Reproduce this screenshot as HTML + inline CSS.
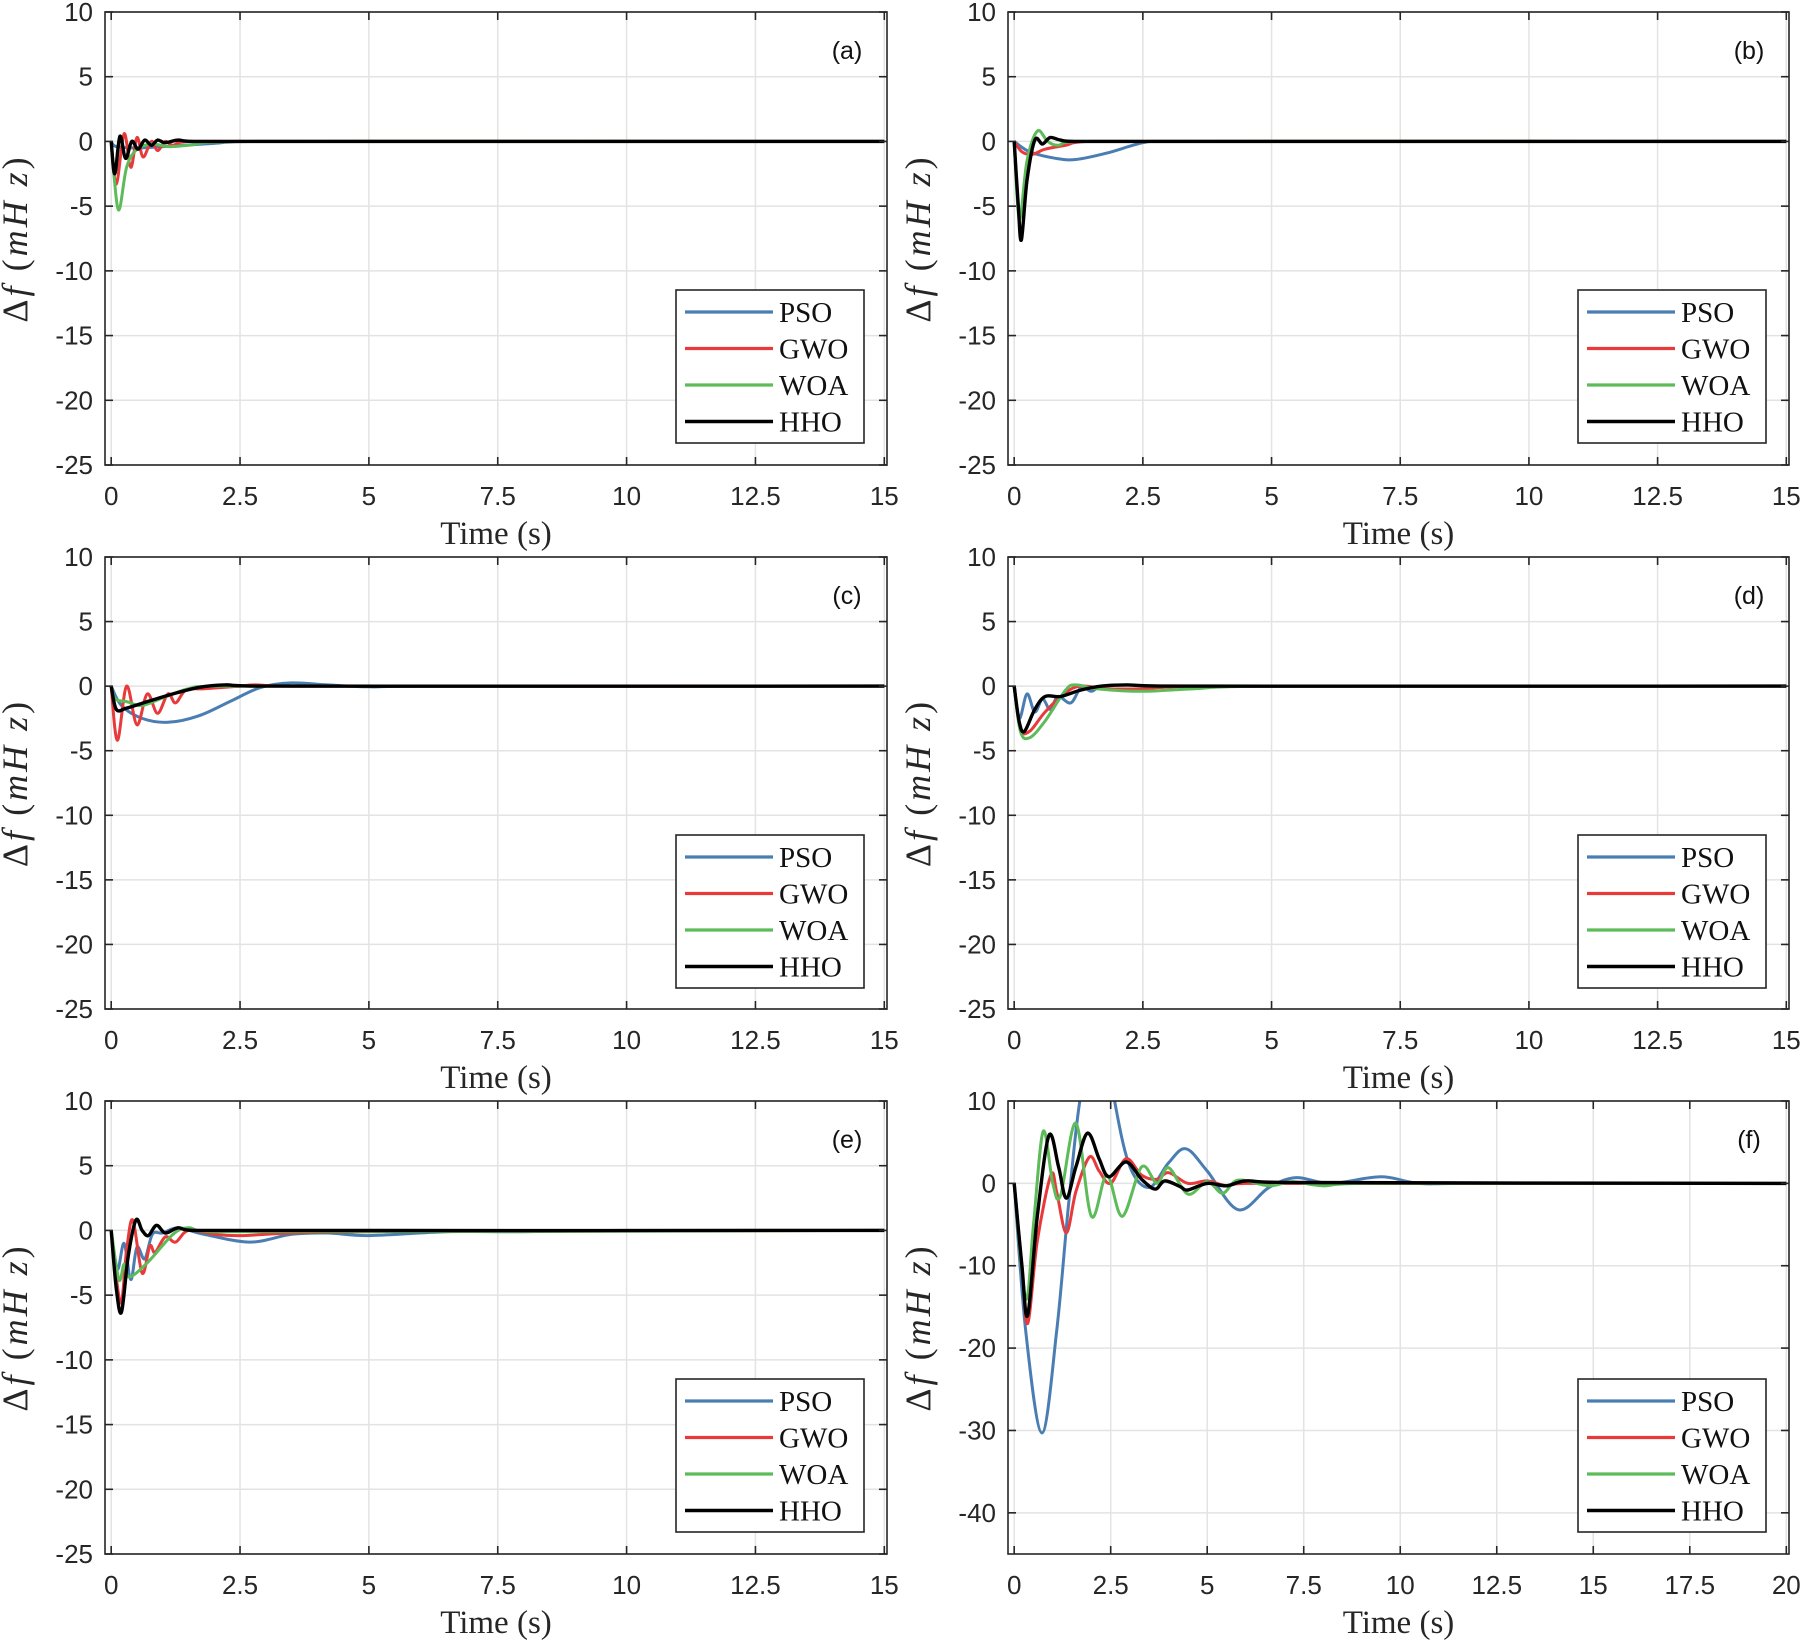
<!DOCTYPE html>
<html><head><meta charset="utf-8"><style>
html,body{margin:0;padding:0;background:#fff;}
svg text{font-family:"Liberation Sans",sans-serif;}
</style></head><body>
<svg id="s" width="1801" height="1645" xmlns="http://www.w3.org/2000/svg"></svg>
<script>
const S=document.getElementById('s');
let out='';
const COL=[{L:105,R:887},{L:1008,R:1789}];
const ROW=[{T:12,B:465},{T:557,B:1009},{T:1101,B:1554}];
const colors={PSO:'#4a7eb3',GWO:'#e8393b',WOA:'#5dbb5a',HHO:'#000'};
const P={
a:{xmax:15,ymin:-25,ymax:10,d:{
PSO:[[0,0],[0.1,-0.4],[0.5,-0.5],[1,-0.4],[2,-0.15],[2.8,0],[15,0]],
GWO:[[0,0],[0.1,-3.3],[0.25,0.6],[0.38,-2],[0.5,0.3],[0.62,-1.2],[0.78,0],[0.9,-0.7],[1.05,0],[1.2,-0.3],[1.5,0],[15,0]],
WOA:[[0,0],[0.05,-2.5],[0.15,-5.3],[0.3,-2],[0.5,-0.6],[0.8,-0.2],[1.1,-0.4],[1.5,-0.3],[2.5,0],[15,0]],
HHO:[[0,0],[0.07,-2.5],[0.17,0.4],[0.28,-1.3],[0.4,0],[0.52,-0.6],[0.65,0.1],[0.78,-0.3],[0.9,0.1],[1.05,-0.1],[1.3,0.1],[1.6,0],[15,0]]}},
b:{xmax:15,ymin:-25,ymax:10,d:{
PSO:[[0,0],[0.3,-0.8],[0.8,-1.3],[1.2,-1.4],[1.8,-0.9],[2.5,-0.1],[3,0],[15,0]],
GWO:[[0,0],[0.15,-0.8],[0.35,-1],[0.6,-0.6],[1,-0.3],[1.5,0],[15,0]],
WOA:[[0,0],[0.1,-6],[0.25,-1.5],[0.45,0.8],[0.65,0],[0.85,-0.3],[1.2,0],[15,0]],
HHO:[[0,0],[0.08,-5],[0.14,-7.6],[0.25,-3],[0.4,0.1],[0.55,-0.2],[0.7,0.3],[0.9,0.1],[1.2,0],[15,0]]}},
c:{xmax:15,ymin:-25,ymax:10,d:{
PSO:[[0,0],[0.2,-1.5],[0.6,-2.5],[1.1,-2.8],[1.7,-2.3],[2.3,-1.2],[2.9,-0.1],[3.5,0.25],[4.2,0.1],[5,-0.05],[6,0],[15,0]],
GWO:[[0,0],[0.12,-4.2],[0.3,0],[0.5,-3],[0.7,-0.6],[0.9,-2.1],[1.1,-0.6],[1.25,-1.3],[1.45,-0.3],[1.8,-0.2],[2.5,0],[2.8,0.1],[3.5,0],[15,0]],
WOA:[[0,0],[0.08,-1],[0.3,-1.2],[0.6,-1.5],[1,-0.9],[1.5,-0.2],[2,0],[15,0]],
HHO:[[0,0],[0.1,-1.8],[0.3,-1.7],[0.7,-1.2],[1.2,-0.6],[1.7,-0.1],[2.2,0.1],[2.8,0],[15,0]]}},
d:{xmax:15,ymin:-25,ymax:10,d:{
PSO:[[0,0],[0.1,-2.5],[0.25,-0.6],[0.4,-2],[0.55,-1],[0.7,-1.8],[0.85,-0.8],[1.1,-1.3],[1.3,-0.1],[1.5,-0.4],[1.7,0],[2.2,0.1],[3,0],[15,0]],
GWO:[[0,0],[0.12,-3.3],[0.3,-3.5],[0.6,-2],[1,-0.5],[1.3,0],[1.8,-0.2],[2.5,-0.2],[4,0],[15,0]],
WOA:[[0,0],[0.12,-3.5],[0.3,-4],[0.6,-2.7],[1,-0.3],[1.2,0.1],[1.6,-0.2],[2.5,-0.4],[3.5,-0.2],[5,0],[15,0]],
HHO:[[0,0],[0.1,-2.8],[0.2,-3.5],[0.4,-1.8],[0.6,-0.8],[0.9,-0.8],[1.3,-0.3],[1.7,0],[2.2,0.1],[3,0],[15,0]]}},
e:{xmax:15,ymin:-25,ymax:10,d:{
PSO:[[0,0],[0.12,-3],[0.25,-1],[0.38,-3.8],[0.5,-1.3],[0.65,-2.2],[0.8,-0.3],[1,-0.2],[1.3,0.2],[1.8,-0.3],[2.7,-0.9],[3.5,-0.3],[4.2,-0.2],[5,-0.4],[6.5,-0.1],[8,-0.1],[10,0],[15,0]],
GWO:[[0,0],[0.18,-5.6],[0.3,-1.5],[0.42,0.8],[0.6,-3.3],[0.75,-1.2],[0.85,-1.7],[1.05,-0.5],[1.25,-0.9],[1.5,0],[2,-0.3],[2.5,-0.4],[3.5,-0.2],[5,-0.1],[15,0]],
WOA:[[0,0],[0.15,-3.8],[0.25,-2.6],[0.35,-3.6],[0.7,-2.5],[1.2,-0.3],[1.5,0.2],[2,-0.1],[15,0]],
HHO:[[0,0],[0.1,-4.5],[0.2,-6.3],[0.33,-2],[0.48,0.8],[0.6,0],[0.72,-0.4],[0.88,0.4],[1.05,-0.2],[1.3,0.2],[1.6,0],[15,0]]}},
f:{xmax:20,ymin:-45,ymax:10,d:{
PSO:[[0,0],[0.3,-18],[0.72,-30.3],[1.1,-18],[1.4,-3],[1.7,10],[2.2,22],[2.6,10],[3,2],[3.5,-0.5],[4,2.5],[4.45,4.2],[5,1.5],[5.8,-3.2],[6.6,-0.5],[7.3,0.7],[8.2,0],[9.5,0.8],[10.5,0],[12,0],[20,0]],
GWO:[[0,0],[0.2,-10],[0.35,-17],[0.6,-7],[0.95,1],[1.1,-1],[1.35,-6],[1.6,-1],[1.95,3.2],[2.2,1.5],[2.5,0],[2.9,3],[3.3,1],[3.7,0.5],[4,1.3],[4.5,0],[5,0.3],[5.5,-0.3],[6,0],[20,0]],
WOA:[[0,0],[0.3,-14],[0.5,-5],[0.75,6.3],[1,0],[1.2,-1.5],[1.6,7.3],[2,-4],[2.4,1],[2.8,-4],[3.3,2],[3.7,0],[4,1.9],[4.5,-1.3],[5,0.2],[5.4,-1.2],[5.8,0.4],[6.6,-0.3],[7.2,0.2],[8,-0.3],[9,0],[20,0]],
HHO:[[0,0],[0.2,-10],[0.35,-16],[0.6,-4],[0.9,5.8],[1.15,2],[1.35,-1.8],[1.6,2],[1.9,6.1],[2.2,3],[2.45,0.8],[2.9,2.6],[3.3,0.5],[3.65,-0.7],[3.9,0.3],[4.3,-0.4],[4.5,-0.8],[5,0],[5.5,-0.3],[6,0.3],[7,0.1],[20,0]]}}
};
const keys=['a','b','c','d','e','f'];
keys.forEach((k,i)=>{
 const p=P[k],c=COL[i%2],r=ROW[Math.floor(i/2)];
 const {L,R}=c,{T,B}=r;
 const x0=-0.12*p.xmax/15, x1=p.xmax*1.0035;
 const X=t=>L+(t-x0)/(x1-x0)*(R-L);
 const Y=v=>T+(p.ymax-v)/(p.ymax-p.ymin)*(B-T);
 out+=`<defs><clipPath id="c${k}"><rect x="${L}" y="${T}" width="${R-L}" height="${B-T}"/></clipPath></defs>`;
 const xs=[];for(let t=0;t<=p.xmax+1e-6;t+=2.5)xs.push(t);
 const ystep=p.ymin<-30?10:5;const ys=[];for(let v=p.ymin<-30?-40:p.ymin;v<=p.ymax;v+=ystep)ys.push(v);
 xs.forEach(t=>{out+=`<line x1="${X(t)}" y1="${T}" x2="${X(t)}" y2="${B}" stroke="#e3e3e3" stroke-width="1.5"/>`;});
 ys.forEach(v=>{out+=`<line x1="${L}" y1="${Y(v)}" x2="${R}" y2="${Y(v)}" stroke="#e3e3e3" stroke-width="1.5"/>`;});
 ['PSO','GWO','WOA','HHO'].forEach(n=>{
  const pts=p.d[n].map(q=>[X(q[0]),Y(q[1])]);
  let d=`M${pts[0][0].toFixed(1)},${pts[0][1].toFixed(1)}`;
  for(let j=0;j<pts.length-1;j++){
   const p0=pts[Math.max(0,j-1)],p1=pts[j],p2=pts[j+1],p3=pts[Math.min(pts.length-1,j+2)];
   let c1=[p1[0]+(p2[0]-p0[0])/6,p1[1]+(p2[1]-p0[1])/6];
   let c2=[p2[0]-(p3[0]-p1[0])/6,p2[1]-(p3[1]-p1[1])/6];
   c1[0]=Math.min(Math.max(c1[0],p1[0]),p2[0]);c2[0]=Math.min(Math.max(c2[0],p1[0]),p2[0]);
   d+=`C${c1[0].toFixed(1)},${c1[1].toFixed(1)} ${c2[0].toFixed(1)},${c2[1].toFixed(1)} ${p2[0].toFixed(1)},${p2[1].toFixed(1)}`;
  }
  out+=`<path d="${d}" fill="none" stroke="${colors[n]}" stroke-width="${n=='HHO'?3.4:3}" stroke-linejoin="round" clip-path="url(#c${k})"/>`;
 });
 out+=`<rect x="${L}" y="${T}" width="${R-L}" height="${B-T}" fill="none" stroke="#262626" stroke-width="1.6"/>`;
 xs.forEach(t=>{out+=`<line x1="${X(t)}" y1="${B}" x2="${X(t)}" y2="${B-8}" stroke="#262626" stroke-width="1.6"/><line x1="${X(t)}" y1="${T}" x2="${X(t)}" y2="${T+8}" stroke="#262626" stroke-width="1.6"/>`;
  out+=`<text x="${X(t)}" y="${B+40}" font-size="26" text-anchor="middle" fill="#262626">${t}</text>`;});
 ys.forEach(v=>{out+=`<line x1="${L}" y1="${Y(v)}" x2="${L+8}" y2="${Y(v)}" stroke="#262626" stroke-width="1.6"/><line x1="${R}" y1="${Y(v)}" x2="${R-8}" y2="${Y(v)}" stroke="#262626" stroke-width="1.6"/>`;
  out+=`<text x="${L-12}" y="${Y(v)+9}" font-size="26" text-anchor="end" fill="#262626">${v}</text>`;});
 out+=`<text x="${(L+R)/2}" y="${B+79}" font-size="33" text-anchor="middle" fill="#262626" style="font-family:'Liberation Serif',serif">Time (s)</text>`;
 const cy=(T+B)/2;
 out+=`<text transform="translate(${L-78},${cy}) rotate(-90)" font-size="36" text-anchor="middle" fill="#262626" style="font-family:'Liberation Serif',serif;letter-spacing:3px">Δ<tspan font-style="italic">f</tspan>   (<tspan font-style="italic">mH z</tspan>)</text>`;
 out+=`<text x="${R-40}" y="${T+47}" font-size="25" text-anchor="middle" fill="#111">(${k})</text>`;
 const lx=R-211,ly=T+278;
 out+=`<rect x="${lx}" y="${ly}" width="188" height="153" fill="#fff" stroke="#262626" stroke-width="1.6"/>`;
 ['PSO','GWO','WOA','HHO'].forEach((n,j)=>{const yy=ly+22+j*36.5;
  out+=`<line x1="${lx+9}" y1="${yy}" x2="${lx+97}" y2="${yy}" stroke="${colors[n]}" stroke-width="${n=='HHO'?3.6:3.2}"/>`;
  out+=`<text x="${lx+103}" y="${yy+10}" font-size="29" fill="#111" style="font-family:'Liberation Serif',serif">${n}</text>`;});
});
S.innerHTML=out;
</script>
</body></html>
